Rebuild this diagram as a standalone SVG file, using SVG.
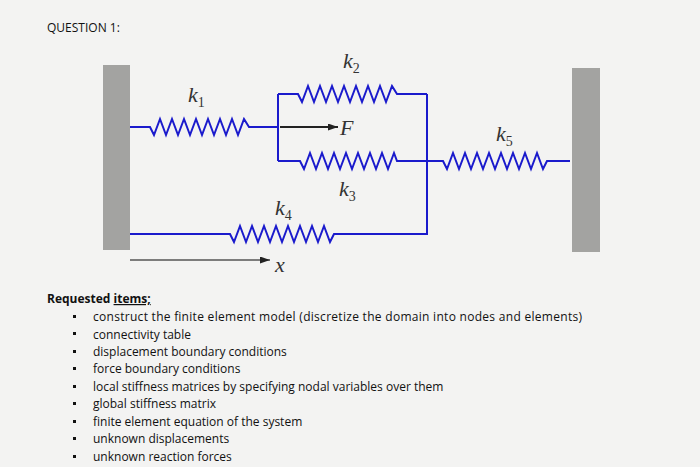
<svg xmlns="http://www.w3.org/2000/svg" width="700" height="467" viewBox="0 0 700 467">
<defs>
<style>
.w{fill:#a3a3a1}
.c{fill:none;stroke:#1a1acc;stroke-width:2;stroke-linejoin:miter}
.k{font-family:"Liberation Serif",serif;font-style:italic;font-size:22px;fill:#333}
.k tspan{font-style:normal;font-size:14px}
.t{font-family:"Open Sans","Liberation Sans",sans-serif;font-size:12px;fill:#111}
.b{fill:#111}
</style>
<marker id="ar" viewBox="0 0 10 10" refX="10" refY="5" markerWidth="10" markerHeight="7" markerUnits="userSpaceOnUse" orient="auto" preserveAspectRatio="none"><path d="M0,0L10,5L0,10z" fill="#222"/></marker>
</defs>
<rect width="700" height="467" fill="#f3f3f2"/>
<text x="47" y="32" class="t" font-size="13">QUESTION 1:</text>
<g id="wallL"><rect class="w" x="103" y="65" width="27" height="185"/></g>
<g id="wallR"><rect class="w" x="572" y="68" width="28" height="184"/></g>
<g id="connectors">
<path class="c" d="M130,127H150l4,8l6,-16l6,16l6,-16l6,16l6,-16l6,16l6,-16l6,16l6,-16l6,16l6,-16l6,16l6,-16l6,16l6,-16l5,8H278"/>
<path class="c" d="M278,94V161"/>
<path class="c" d="M278,94H298l4,8l6,-16l6,16l6,-16l6,16l6,-16l6,16l6,-16l6,16l6,-16l6,16l6,-16l6,16l6,-16l6,16l6,-16l5,8H427"/>
<path class="c" d="M278,161H300l4,8l6,-16l6,16l6,-16l6,16l6,-16l6,16l6,-16l6,16l6,-16l6,16l6,-16l6,16l6,-16l6,16l6,-16l3,8H427"/>
<path class="c" d="M427,94V235"/>
<path class="c" d="M427,161H443l4,8l6,-16l6,16l6,-16l6,16l6,-16l6,16l6,-16l6,16l6,-16l6,16l6,-16l6,16l6,-16l6,16l6,-16l6,16l4,-8H570"/>
<path class="c" d="M130,234H230l4,8l6,-16l6,16l6,-16l6,16l6,-16l6,16l6,-16l6,16l6,-16l6,16l6,-16l6,16l6,-16l6,16l6,-16l6,16l4,-8H427"/>
<path d="M280,127H338" stroke="#222" stroke-width="2" marker-end="url(#ar)"/>
<path d="M130,260H270" stroke="#555" stroke-width="1.5" marker-end="url(#ar)"/>
</g>
<g id="labels">
<text class="k" x="188" y="102">k<tspan dy="5">1</tspan></text>
<text class="k" x="343" y="68">k<tspan dy="5">2</tspan></text>
<text class="k" x="339" y="196">k<tspan dy="5">3</tspan></text>
<text class="k" x="275" y="215">k<tspan dy="5">4</tspan></text>
<text class="k" x="496" y="141">k<tspan dy="5">5</tspan></text>
<text class="k" x="340" y="135">F</text>
<text class="k" x="275" y="272">x</text>
</g>
<g id="list">
<text class="t" x="47" y="303" font-weight="bold">Requested <tspan text-decoration="underline">items;</tspan></text>
<g class="b">
<rect x="73" y="315" width="3" height="3"/><rect x="73" y="332" width="3" height="3"/><rect x="73" y="350" width="3" height="3"/><rect x="73" y="367" width="3" height="3"/><rect x="73" y="385" width="3" height="3"/><rect x="73" y="402" width="3" height="3"/><rect x="73" y="420" width="3" height="3"/><rect x="73" y="437" width="3" height="3"/><rect x="73" y="455" width="3" height="3"/>
</g>
<text class="t" x="93" y="321" textLength="489">construct the finite element model (discretize the domain into nodes and elements)</text>
<text class="t" x="93" y="339">connectivity table</text>
<text class="t" x="93" y="356">displacement boundary conditions</text>
<text class="t" x="93" y="373">force boundary conditions</text>
<text class="t" x="93" y="391">local stiffness matrices by specifying nodal variables over them</text>
<text class="t" x="93" y="408">global stiffness matrix</text>
<text class="t" x="93" y="426">finite element equation of the system</text>
<text class="t" x="93" y="443">unknown displacements</text>
<text class="t" x="93" y="461">unknown reaction forces</text>
</g>
</svg>
